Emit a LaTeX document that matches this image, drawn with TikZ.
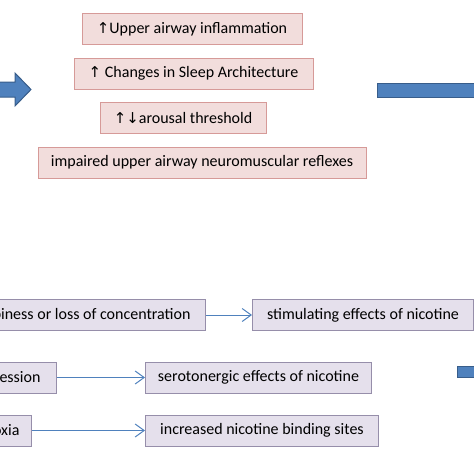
\documentclass[tikz,border=0pt]{standalone}
\usepackage{fontspec}
\setmainfont{Carlito}
\newfontfamily\symfont{DejaVu Sans}
\usetikzlibrary{arrows.meta}
\definecolor{pinkfill}{RGB}{242,221,220}
\definecolor{pinkline}{RGB}{214,154,152}
\definecolor{lavfill}{RGB}{229,224,236}
\definecolor{lavline}{RGB}{150,142,170}
\definecolor{arrowblue}{RGB}{79,129,189}
\definecolor{arrowedge}{RGB}{56,93,138}
\newcommand{\up}{{\symfont\fontsize{15}{17}\selectfont↑}}
\newcommand{\down}{{\symfont\fontsize{15}{17}\selectfont↓}}
\begin{document}
\begin{tikzpicture}[x=1pt,y=-1pt,font=\fontsize{16}{19}\selectfont]
  \tikzset{pbox/.style={draw=pinkline, fill=pinkfill, line width=1pt, minimum height=31pt, inner xsep=0pt, anchor=center},
           lbox/.style={draw=lavline, fill=lavfill, line width=1pt, minimum height=31pt, inner xsep=15pt, anchor=east, text width=240pt, align=flush right},
           rbox/.style={draw=lavline, fill=lavfill, line width=1pt, minimum height=31pt, inner xsep=0pt, anchor=west},
           link/.style={draw=arrowblue, line width=1pt, -{Straight Barb[length=9pt,width=13pt]}},
           blockarrow/.style={fill=arrowblue, draw=arrowedge, line width=1pt}}
  \useasboundingbox (0,0) rectangle (474,474);
  \clip (0,0) rectangle (474,474);
  % block arrows
  \draw[blockarrow] (-5,82) -- (15,82) -- (15,73) -- (31,89.5) -- (15,106) -- (15,97) -- (-5,97) -- cycle;
  \draw[blockarrow] (377,83) rectangle (480,97);
  \draw[blockarrow] (457,366) rectangle (480,377);
  % factors
  \node[pbox, minimum width=220pt] (inflam) at (192,29) {\up Upper airway inflammation};
  \node[pbox, minimum width=239pt] (sleeparch) at (193.5,73.5) {\up{} Changes in Sleep Architecture};
  \node[pbox, minimum width=166pt] (arousal) at (183,118) {\up\down arousal threshold};
  \node[pbox, minimum width=328pt] (reflex) at (202,162.5) {impaired upper airway neuromuscular reflexes};
  % symptoms and nicotine effects
  \node[lbox] (sleepy) at (206,315) {piness or loss of concentration};
  \node[rbox, minimum width=221pt] (stimul) at (252,315) {stimulating effects of nicotine};
  \node[lbox, inner xsep=16pt] (depress) at (57,377.5) {ession};
  \node[rbox, minimum width=226pt] (seroton) at (145,377.5) {serotonergic effects of nicotine};
  \node[lbox, inner xsep=12pt] (hypox) at (32,430.5) {oxia};
  \node[rbox, minimum width=233pt] (binding) at (145,430.5) {increased nicotine binding sites};
  \draw[link] (sleepy) -- (stimul);
  \draw[link] (depress) -- (seroton);
  \draw[link] (hypox) -- (binding);
\end{tikzpicture}
\end{document}
